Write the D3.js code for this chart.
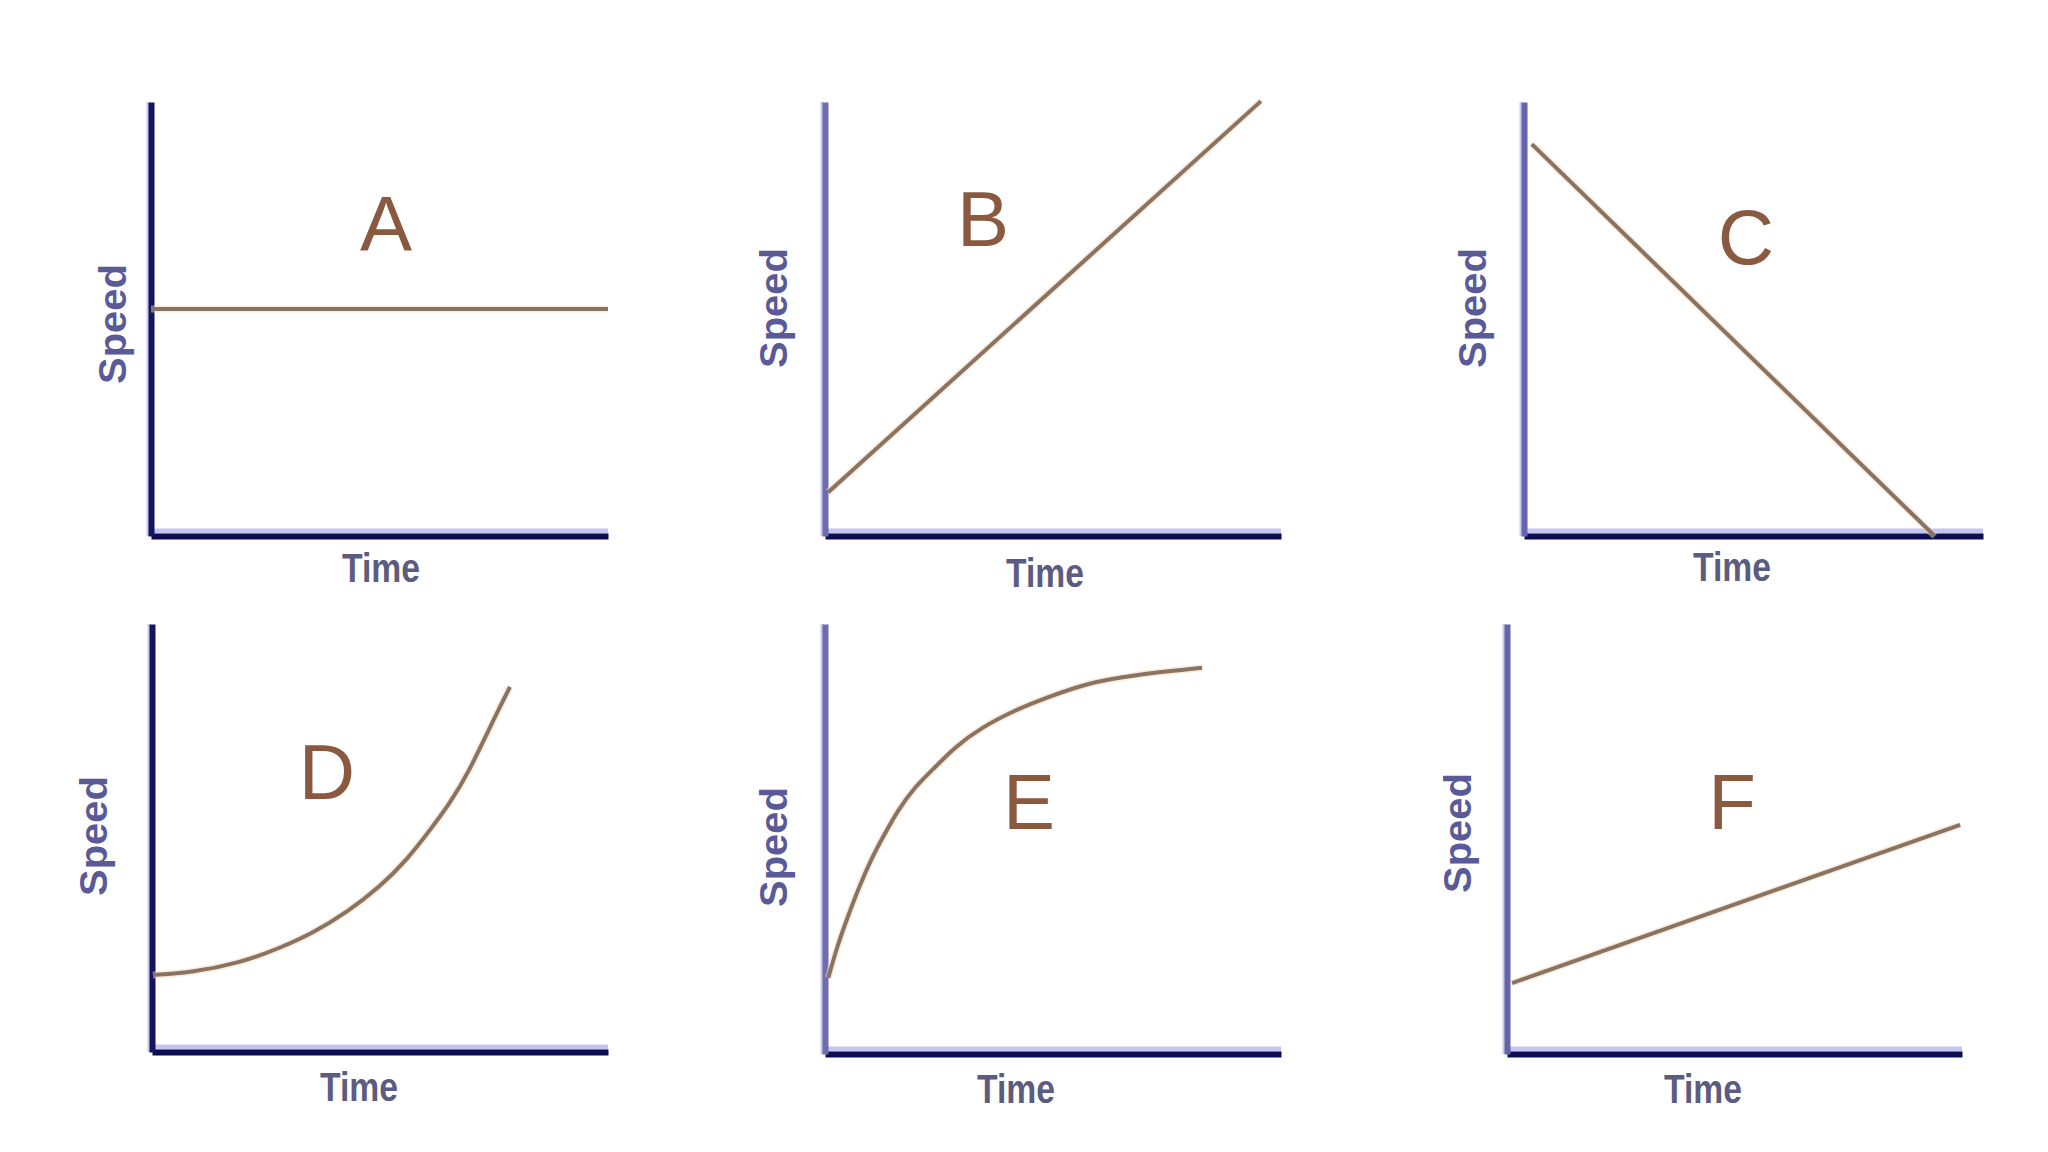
<!DOCTYPE html>
<html><head><meta charset="utf-8">
<script src="https://cdn.jsdelivr.net/npm/d3@7"></script>
<style>html,body{margin:0;padding:0;background:#fff;}svg{display:block;}</style>
</head><body>
<svg id="c" width="2048" height="1152"></svg>
<script>
// ---- data (time, speed) in arbitrary units 0..10 per panel ----
const panelLabels = ["A","B","C","D","E","F"];
const xAxisTitle = "Time";
const yAxisTitle = "Speed";
const timeA = [0, 10];            const speedA = [5.23, 5.23];
const timeB = [0.07, 9.56];       const speedB = [1.01, 10.02];
const timeC = [0.17, 8.95];       const speedC = [9.03, 0];
const timeD = [0.02, 0.83, 1.93, 2.81, 3.53, 4.28, 5.0, 5.59, 6.10, 6.54, 6.97, 7.41, 7.85];
const speedD = [1.80, 1.85, 2.08, 2.43, 2.78, 3.27, 3.86, 4.49, 5.19, 5.82, 6.59, 7.59, 8.53];
const timeE = [0.07, 0.29, 0.50, 0.72, 1.03, 1.32, 1.60, 1.97, 2.35, 2.85, 3.44, 4.17, 4.89, 5.77, 6.73, 8.27];
const speedE = [1.77, 2.58, 3.19, 3.81, 4.58, 5.14, 5.67, 6.21, 6.60, 7.14, 7.60, 8.00, 8.30, 8.63, 8.81, 8.98];
const timeF = [0.11, 9.96];       const speedF = [1.65, 5.33];
const seriesTime = [timeA, timeB, timeC, timeD, timeE, timeF];
const seriesSpeed = [speedA, speedB, speedC, speedD, speedE, speedF];

// ---- layout (pixel boxes of each panel's axes) ----
const boxes = [
  {x0:151, y0:536, w:457, h:434, lab:[386,224], sp:[113,324], tm:[381,568], yc:"#15155e"},
  {x0:825, y0:536, w:456, h:434, lab:[983,219], sp:[774,308], tm:[1045,573], yc:"#6c6cae"},
  {x0:1524,y0:536, w:459, h:434, lab:[1746,237], sp:[1473,308], tm:[1732,567], yc:"#6464b0"},
  {x0:152, y0:1052,w:456, h:428, lab:[327,772], sp:[94,836], tm:[359,1087], yc:"#15155e"},
  {x0:825, y0:1054,w:456, h:430, lab:[1029,802], sp:[774,847], tm:[1016,1089], yc:"#6c6cae"},
  {x0:1507,y0:1054,w:455, h:430, lab:[1732,802], sp:[1458,833], tm:[1703,1089], yc:"#6464a8"}
];

const svg = d3.select("#c");
const font = "'Liberation Sans', Arial, sans-serif";

boxes.forEach((b, i) => {
  const x = d3.scaleLinear().domain([0, 10]).range([b.x0, b.x0 + b.w]);
  const y = d3.scaleLinear().domain([0, 10]).range([b.y0, b.y0 - b.h]);
  const g = svg.append("g");

  // halo of x-axis
  g.append("line").attr("x1", x(0)).attr("x2", x(10)).attr("y1", y(0) - 5).attr("y2", y(0) - 5)
    .attr("stroke", "#c4c4f2").attr("stroke-width", 5);
  // halo of y-axis
  g.append("line").attr("x1", x(0) - 3).attr("x2", x(0) - 3).attr("y1", y(0)).attr("y2", y(10))
    .attr("stroke", "#c8c8f0").attr("stroke-width", 3);

  // axes via d3
  const ax = g.append("g").attr("transform", `translate(0,${y(0)})`)
    .call(d3.axisBottom(x).ticks(0).tickSize(0).tickSizeOuter(0));
  ax.select(".domain").attr("stroke", "#0c0c50").attr("stroke-width", 6);
  ax.selectAll("text").remove();

  const ay = g.append("g").attr("transform", `translate(${x(0)},0)`)
    .call(d3.axisLeft(y).ticks(0).tickSize(0).tickSizeOuter(0));
  ay.select(".domain").attr("stroke", b.yc).attr("stroke-width", 6);
  ay.selectAll("text").remove();

  // the curve
  const pts = seriesTime[i].map((t, k) => [t, seriesSpeed[i][k]]);
  const line = d3.line().x(d => x(d[0])).y(d => y(d[1]))
    .curve(pts.length > 2 ? d3.curveBasis : d3.curveLinear);
  g.append("path").datum(pts).attr("d", line)
    .attr("fill", "none").attr("stroke", "#f3d9c0").attr("stroke-width", 7).attr("stroke-opacity", 0.5);
  g.append("path").datum(pts).attr("d", line)
    .attr("fill", "none").attr("stroke", "#8a7360").attr("stroke-width", 4);

  // panel letter
  g.append("text").attr("x", b.lab[0]).attr("y", b.lab[1])
    .attr("text-anchor", "middle").attr("dominant-baseline", "central")
    .attr("font-family", font).attr("font-size", 78).attr("fill", "#8a5a40")
    .text(panelLabels[i]);

  // axis titles
  g.append("text").attr("transform", `translate(${b.sp[0]},${b.sp[1]}) rotate(-90)`)
    .attr("text-anchor", "middle").attr("dominant-baseline", "central")
    .attr("font-family", font).attr("font-weight", "bold").attr("font-size", 38)
    .attr("fill", "#5a5a98").attr("textLength", 120).attr("lengthAdjust", "spacingAndGlyphs")
    .text(yAxisTitle);
  g.append("text").attr("x", b.tm[0]).attr("y", b.tm[1])
    .attr("text-anchor", "middle").attr("dominant-baseline", "central")
    .attr("font-family", font).attr("font-weight", "bold").attr("font-size", 40)
    .attr("fill", "#5c5c80").attr("textLength", 78).attr("lengthAdjust", "spacingAndGlyphs")
    .text(xAxisTitle);
});
</script>
</body></html>
